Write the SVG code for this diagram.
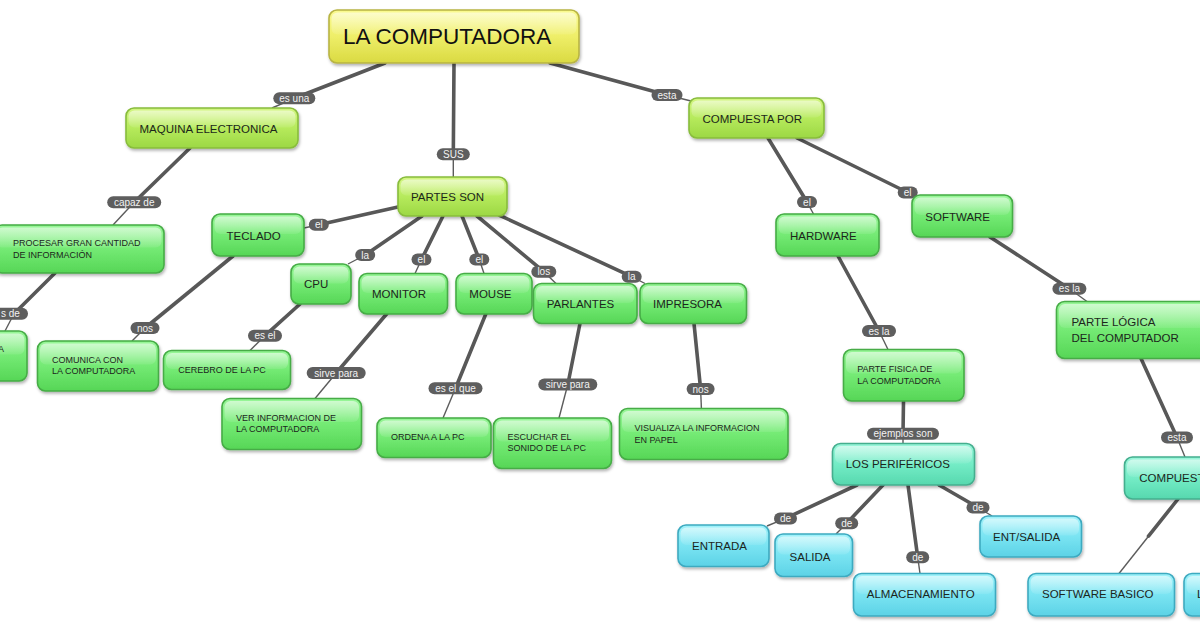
<svg xmlns="http://www.w3.org/2000/svg" width="1200" height="630" viewBox="0 0 1200 630">
<defs>
<linearGradient id="gY" x1="0" y1="0" x2="0" y2="1"><stop offset="0" stop-color="#fafa90"/><stop offset="0.5" stop-color="#eeee68"/><stop offset="1" stop-color="#dada42"/></linearGradient>
<linearGradient id="gYG" x1="0" y1="0" x2="0" y2="1"><stop offset="0" stop-color="#d4f682"/><stop offset="0.5" stop-color="#b6ea5c"/><stop offset="1" stop-color="#9cd844"/></linearGradient>
<linearGradient id="gG" x1="0" y1="0" x2="0" y2="1"><stop offset="0" stop-color="#98f698"/><stop offset="0.5" stop-color="#74ea74"/><stop offset="1" stop-color="#56d656"/></linearGradient>
<linearGradient id="gT" x1="0" y1="0" x2="0" y2="1"><stop offset="0" stop-color="#9af6da"/><stop offset="0.5" stop-color="#74ecc6"/><stop offset="1" stop-color="#56d8ae"/></linearGradient>
<linearGradient id="gC" x1="0" y1="0" x2="0" y2="1"><stop offset="0" stop-color="#a0f2fa"/><stop offset="0.5" stop-color="#7ae4f2"/><stop offset="1" stop-color="#5cd2e6"/></linearGradient>
<linearGradient id="gloss" x1="0" y1="0" x2="0" y2="1"><stop offset="0" stop-color="#ffffff" stop-opacity="0.55"/><stop offset="1" stop-color="#ffffff" stop-opacity="0.08"/></linearGradient>
<filter id="sh" x="-10%" y="-15%" width="125%" height="150%"><feDropShadow dx="1" dy="2" stdDeviation="1.5" flood-color="#000" flood-opacity="0.3"/></filter>
</defs>
<style>
.box{stroke-width:1.6;filter:url(#sh)}
.y{fill:url(#gY);stroke:#b8b444}
.yg{fill:url(#gYG);stroke:#88bc3c}
.g{fill:url(#gG);stroke:#46ac46}
.t{fill:url(#gT);stroke:#44ae8e}
.c{fill:url(#gC);stroke:#3eaac0}
.hl{fill:url(#gloss)}
.tx{font-family:"Liberation Sans",Arial,sans-serif;font-size:11.5px;fill:#1c261c}
.sm{font-family:"Liberation Sans",Arial,sans-serif;font-size:9px;fill:#1c261c}
.ttl{font-family:"Liberation Sans",Arial,sans-serif;font-size:22.5px;fill:#111}
.k{stroke:#585858;stroke-width:3.6;stroke-linecap:round;fill:none}
.n{stroke:#5c5c5c;stroke-width:1.4;fill:none}
.lb{fill:#5e5e5e}
.lt{font-family:"Liberation Sans",Arial,sans-serif;font-size:10px;fill:#f2f2f2;text-anchor:middle}
</style>
<g id="connectors">
<line class="k" x1="385" y1="63" x2="294.3" y2="98.3"/><line class="n" x1="294.3" y1="98.3" x2="272" y2="108"/>
<line class="k" x1="454" y1="63" x2="453.3" y2="154.2"/><line class="n" x1="453.3" y1="154.2" x2="453.3" y2="177"/>
<line class="k" x1="550" y1="63" x2="667" y2="95"/><line class="n" x1="667" y1="95" x2="691" y2="101"/>
<line class="k" x1="190" y1="148" x2="134.2" y2="202.2"/><line class="n" x1="134.2" y1="202.2" x2="113" y2="225"/>
<line class="k" x1="55" y1="273" x2="14" y2="313.7"/><line class="n" x1="14" y1="313.7" x2="5" y2="331"/>
<line class="k" x1="398" y1="207" x2="318.8" y2="224.7"/><line class="n" x1="318.8" y1="224.7" x2="304" y2="228"/>
<line class="k" x1="422" y1="216" x2="365.2" y2="255"/><line class="n" x1="365.2" y1="255" x2="348" y2="264"/>
<line class="k" x1="443" y1="216" x2="421.5" y2="259.5"/><line class="n" x1="421.5" y1="259.5" x2="415" y2="273.5"/>
<line class="k" x1="462" y1="216" x2="479.3" y2="259.5"/><line class="n" x1="479.3" y1="259.5" x2="484" y2="273.5"/>
<line class="k" x1="477" y1="216" x2="543.8" y2="271.7"/><line class="n" x1="543.8" y1="271.7" x2="556" y2="283.5"/>
<line class="k" x1="499" y1="215" x2="631.7" y2="276.7"/><line class="n" x1="631.7" y1="276.7" x2="645" y2="283.5"/>
<line class="k" x1="233" y1="256" x2="145" y2="328"/><line class="n" x1="145" y1="328" x2="132" y2="341"/>
<line class="k" x1="300" y1="304" x2="265" y2="335.7"/><line class="n" x1="265" y1="335.7" x2="250" y2="350.5"/>
<line class="k" x1="387" y1="313.5" x2="336.2" y2="373"/><line class="n" x1="336.2" y1="373" x2="315" y2="398.5"/>
<line class="k" x1="486" y1="313.5" x2="455.5" y2="388.3"/><line class="n" x1="455.5" y1="388.3" x2="443" y2="418"/>
<line class="k" x1="580" y1="323.5" x2="567.8" y2="384.5"/><line class="n" x1="567.8" y1="384.5" x2="559" y2="418"/>
<line class="k" x1="694" y1="323.5" x2="700.6" y2="389"/><line class="n" x1="700.6" y1="389" x2="701.4" y2="408.5"/>
<line class="k" x1="768" y1="138" x2="807" y2="202"/><line class="n" x1="807" y1="202" x2="813.5" y2="214"/>
<line class="k" x1="797" y1="138" x2="907.7" y2="192.5"/><line class="n" x1="907.7" y1="192.5" x2="920" y2="197"/>
<line class="k" x1="838" y1="256" x2="879" y2="331"/><line class="n" x1="879" y1="331" x2="888" y2="349.5"/>
<line class="k" x1="990" y1="237" x2="1069.4" y2="288.8"/><line class="n" x1="1069.4" y1="288.8" x2="1087" y2="301.5"/>
<line class="k" x1="903.5" y1="401" x2="903" y2="433.8"/><line class="n" x1="903" y1="433.8" x2="903" y2="443.5"/>
<line class="k" x1="1141" y1="358.5" x2="1177" y2="437.5"/><line class="n" x1="1177" y1="437.5" x2="1185" y2="457"/>
<line class="k" x1="857" y1="485" x2="785.5" y2="518.4"/><line class="n" x1="785.5" y1="518.4" x2="767" y2="526"/>
<line class="k" x1="883" y1="485" x2="846.7" y2="523.2"/><line class="n" x1="846.7" y1="523.2" x2="836" y2="534"/>
<line class="k" x1="908" y1="485" x2="917.7" y2="557.2"/><line class="n" x1="917.7" y1="557.2" x2="920" y2="573.5"/>
<line class="k" x1="939" y1="485" x2="978" y2="507.5"/><line class="n" x1="978" y1="507.5" x2="992" y2="516"/>
<line class="k" x1="1178" y1="499" x2="1148.5" y2="536.2"/><line class="n" x1="1148.5" y1="536.2" x2="1119" y2="573.5"/>
<g id="labels">
<rect class="lb" x="273.3" y="92.3" width="42" height="12" rx="6"/><text class="lt" x="294.3" y="101.8">es una</text>
<rect class="lb" x="436.8" y="148.2" width="33" height="12" rx="6"/><text class="lt" x="453.3" y="157.7">SUS</text>
<rect class="lb" x="651.5" y="89" width="31" height="12" rx="6"/><text class="lt" x="667" y="98.5">esta</text>
<rect class="lb" x="107.2" y="196.2" width="54" height="12" rx="6"/><text class="lt" x="134.2" y="205.7">capaz de</text>
<rect class="lb" x="-20" y="307.7" width="48" height="12" rx="6"/><text class="lt" x="1" y="317.2" style="text-anchor:start">s de</text>
<rect class="lb" x="308.8" y="218.7" width="20" height="12" rx="6"/><text class="lt" x="318.8" y="228.2">el</text>
<rect class="lb" x="355.2" y="249" width="20" height="12" rx="6"/><text class="lt" x="365.2" y="258.5">la</text>
<rect class="lb" x="411.5" y="253.5" width="20" height="12" rx="6"/><text class="lt" x="421.5" y="263">el</text>
<rect class="lb" x="469.3" y="253.5" width="20" height="12" rx="6"/><text class="lt" x="479.3" y="263">el</text>
<rect class="lb" x="531.3" y="265.7" width="25" height="12" rx="6"/><text class="lt" x="543.8" y="275.2">los</text>
<rect class="lb" x="621.7" y="270.7" width="20" height="12" rx="6"/><text class="lt" x="631.7" y="280.2">la</text>
<rect class="lb" x="130.5" y="322" width="29" height="12" rx="6"/><text class="lt" x="145" y="331.5">nos</text>
<rect class="lb" x="248" y="329.7" width="34" height="12" rx="6"/><text class="lt" x="265" y="339.2">es el</text>
<rect class="lb" x="306.7" y="367" width="59" height="12" rx="6"/><text class="lt" x="336.2" y="376.5">sirve para</text>
<rect class="lb" x="428.5" y="382.3" width="54" height="12" rx="6"/><text class="lt" x="455.5" y="391.8">es el que</text>
<rect class="lb" x="538.3" y="378.5" width="59" height="12" rx="6"/><text class="lt" x="567.8" y="388">sirve para</text>
<rect class="lb" x="686.6" y="383" width="28" height="12" rx="6"/><text class="lt" x="700.6" y="392.5">nos</text>
<rect class="lb" x="797" y="196" width="20" height="12" rx="6"/><text class="lt" x="807" y="205.5">el</text>
<rect class="lb" x="897.7" y="186.5" width="20" height="12" rx="6"/><text class="lt" x="907.7" y="196">el</text>
<rect class="lb" x="862" y="325" width="34" height="12" rx="6"/><text class="lt" x="879" y="334.5">es la</text>
<rect class="lb" x="1052.4" y="282.8" width="34" height="12" rx="6"/><text class="lt" x="1069.4" y="292.3">es la</text>
<rect class="lb" x="867" y="427.8" width="72" height="12" rx="6"/><text class="lt" x="903" y="437.3">ejemplos son</text>
<rect class="lb" x="1161" y="431.5" width="32" height="12" rx="6"/><text class="lt" x="1177" y="441">esta</text>
<rect class="lb" x="774" y="512.4" width="23" height="12" rx="6"/><text class="lt" x="785.5" y="521.9">de</text>
<rect class="lb" x="835.2" y="517.2" width="23" height="12" rx="6"/><text class="lt" x="846.7" y="526.7">de</text>
<rect class="lb" x="906.2" y="551.2" width="23" height="12" rx="6"/><text class="lt" x="917.7" y="560.7">de</text>
<rect class="lb" x="966.5" y="501.5" width="23" height="12" rx="6"/><text class="lt" x="978" y="511">de</text>
</g>
</g>
<g id="n-title"><rect class="box y" x="329" y="10" width="250" height="53" rx="8"/><rect class="hl" x="331.5" y="12.5" width="245" height="22" rx="6"/><text class="ttl" x="343" y="44">LA COMPUTADORA</text></g>
<g id="n-maquina"><rect class="box yg" x="126" y="108" width="172" height="40" rx="8"/><rect class="hl" x="128.5" y="110.5" width="167" height="17" rx="6"/><text class="tx" x="139.5" y="132.5">MAQUINA ELECTRONICA</text></g>
<g id="n-compuesta"><rect class="box yg" x="689" y="98" width="135" height="40" rx="8"/><rect class="hl" x="691.5" y="100.5" width="130" height="17" rx="6"/><text class="tx" x="702.5" y="122.5">COMPUESTA POR</text></g>
<g id="n-partes"><rect class="box yg" x="398" y="177" width="109" height="39" rx="8"/><rect class="hl" x="400.5" y="179.5" width="104" height="16" rx="6"/><text class="tx" x="411" y="200.5">PARTES SON</text></g>
<g id="n-procesar"><rect class="box g" x="-6" y="225" width="170" height="48" rx="8"/><rect class="hl" x="-3.5" y="227.5" width="165" height="20" rx="6"/><text class="sm" x="13" y="246">PROCESAR GRAN CANTIDAD</text><text class="sm" x="13" y="257.5">DE INFORMACIÓN</text></g>
<g id="n-left"><rect class="box g" x="-20" y="331" width="47" height="50" rx="8"/><rect class="hl" x="-17.5" y="333.5" width="42" height="21" rx="6"/><text class="sm" x="-2" y="352">A</text></g>
<g id="n-teclado"><rect class="box g" x="212" y="214" width="92" height="42" rx="8"/><rect class="hl" x="214.5" y="216.5" width="87" height="17.5" rx="6"/><text class="tx" x="226.5" y="239.5">TECLADO</text></g>
<g id="n-cpu"><rect class="box g" x="291" y="264" width="60" height="40" rx="8"/><rect class="hl" x="293.5" y="266.5" width="55" height="17" rx="6"/><text class="tx" x="304" y="288">CPU</text></g>
<g id="n-monitor"><rect class="box g" x="359" y="273.5" width="88.5" height="40.5" rx="8"/><rect class="hl" x="361.5" y="276" width="83.5" height="17" rx="6"/><text class="tx" x="372" y="298.3">MONITOR</text></g>
<g id="n-mouse"><rect class="box g" x="456" y="273.5" width="76" height="40.5" rx="8"/><rect class="hl" x="458.5" y="276" width="71" height="17" rx="6"/><text class="tx" x="469.3" y="298.3">MOUSE</text></g>
<g id="n-parlantes"><rect class="box g" x="533.5" y="283.5" width="103.5" height="40" rx="8"/><rect class="hl" x="536" y="286" width="98.5" height="17" rx="6"/><text class="tx" x="546.7" y="307.5">PARLANTES</text></g>
<g id="n-impresora"><rect class="box g" x="640" y="283.5" width="106.5" height="40" rx="8"/><rect class="hl" x="642.5" y="286" width="101.5" height="17" rx="6"/><text class="tx" x="653" y="307.5">IMPRESORA</text></g>
<g id="n-comunica"><rect class="box g" x="37.5" y="341" width="121" height="50" rx="8"/><rect class="hl" x="40" y="343.5" width="116" height="21" rx="6"/><text class="sm" x="52" y="362.5">COMUNICA CON</text><text class="sm" x="52" y="374">LA COMPUTADORA</text></g>
<g id="n-cerebro"><rect class="box g" x="163.5" y="350.5" width="127" height="39" rx="8"/><rect class="hl" x="166" y="353" width="122" height="16" rx="6"/><text class="sm" x="178.3" y="372.7">CEREBRO DE LA PC</text></g>
<g id="n-ver"><rect class="box g" x="222" y="398.5" width="139.5" height="51" rx="8"/><rect class="hl" x="224.5" y="401" width="134.5" height="21" rx="6"/><text class="sm" x="236" y="420.7">VER INFORMACION DE</text><text class="sm" x="236" y="432">LA COMPUTADORA</text></g>
<g id="n-ordena"><rect class="box g" x="377" y="418" width="114" height="39.5" rx="8"/><rect class="hl" x="379.5" y="420.5" width="109" height="16.5" rx="6"/><text class="sm" x="391" y="440.3">ORDENA A LA PC</text></g>
<g id="n-escuchar"><rect class="box g" x="493.5" y="418" width="118" height="50.5" rx="8"/><rect class="hl" x="496" y="420.5" width="113" height="21" rx="6"/><text class="sm" x="507.5" y="439.5">ESCUCHAR EL</text><text class="sm" x="507.5" y="451">SONIDO DE LA PC</text></g>
<g id="n-visualiza"><rect class="box g" x="619.5" y="408.5" width="168.5" height="51" rx="8"/><rect class="hl" x="622" y="411" width="163.5" height="21" rx="6"/><text class="sm" x="634.4" y="431">VISUALIZA LA INFORMACION</text><text class="sm" x="634.4" y="442.7">EN PAPEL</text></g>
<g id="n-hardware"><rect class="box g" x="776" y="214" width="103" height="42" rx="8"/><rect class="hl" x="778.5" y="216.5" width="98" height="17.5" rx="6"/><text class="tx" x="790" y="239.5">HARDWARE</text></g>
<g id="n-software"><rect class="box g" x="912" y="195" width="100.5" height="42" rx="8"/><rect class="hl" x="914.5" y="197.5" width="95.5" height="17.5" rx="6"/><text class="tx" x="925.3" y="220.5">SOFTWARE</text></g>
<g id="n-fisica"><rect class="box g" x="843.5" y="349.5" width="120.5" height="51.5" rx="8"/><rect class="hl" x="846" y="352" width="115.5" height="21.5" rx="6"/><text class="sm" x="857.2" y="372.3">PARTE FISICA DE</text><text class="sm" x="857.2" y="383.5">LA COMPUTADORA</text></g>
<g id="n-logica"><rect class="box g" x="1056.5" y="301.5" width="160" height="57" rx="8"/><rect class="hl" x="1059" y="304" width="155" height="24" rx="6"/><text class="tx" x="1071.5" y="326">PARTE LÓGICA</text><text class="tx" x="1071.5" y="341.7">DEL COMPUTADOR</text></g>
<g id="n-perifericos"><rect class="box t" x="832.5" y="443.5" width="142" height="41.5" rx="8"/><rect class="hl" x="835" y="446" width="137" height="17.5" rx="6"/><text class="tx" x="845.7" y="467.5">LOS PERIFÉRICOS</text></g>
<g id="n-compuest"><rect class="box t" x="1124.5" y="457" width="100" height="42" rx="8"/><rect class="hl" x="1127" y="459.5" width="95" height="17.5" rx="6"/><text class="tx" x="1139.3" y="482">COMPUEST</text></g>
<g id="n-entrada"><rect class="box c" x="678" y="525" width="91" height="41.5" rx="8"/><rect class="hl" x="680.5" y="527.5" width="86" height="17.5" rx="6"/><text class="tx" x="692" y="550">ENTRADA</text></g>
<g id="n-salida"><rect class="box c" x="775" y="534" width="77.5" height="42.5" rx="8"/><rect class="hl" x="777.5" y="536.5" width="72.5" height="18" rx="6"/><text class="tx" x="789.6" y="560.5">SALIDA</text></g>
<g id="n-almacenamiento"><rect class="box c" x="853.5" y="573.5" width="142" height="42.5" rx="8"/><rect class="hl" x="856" y="576" width="137" height="18" rx="6"/><text class="tx" x="866.8" y="598.3">ALMACENAMIENTO</text></g>
<g id="n-entsalida"><rect class="box c" x="980" y="516" width="101.5" height="41" rx="8"/><rect class="hl" x="982.5" y="518.5" width="96.5" height="17" rx="6"/><text class="tx" x="993" y="540.5">ENT/SALIDA</text></g>
<g id="n-swbasico"><rect class="box c" x="1028" y="573.5" width="146.5" height="42.5" rx="8"/><rect class="hl" x="1030.5" y="576" width="141.5" height="18" rx="6"/><text class="tx" x="1042" y="598">SOFTWARE BASICO</text></g>
<g id="n-l"><rect class="box c" x="1184" y="573.5" width="40" height="42.5" rx="8"/><rect class="hl" x="1186.5" y="576" width="35" height="18" rx="6"/><text class="tx" x="1197" y="598">L</text></g>
</svg>
